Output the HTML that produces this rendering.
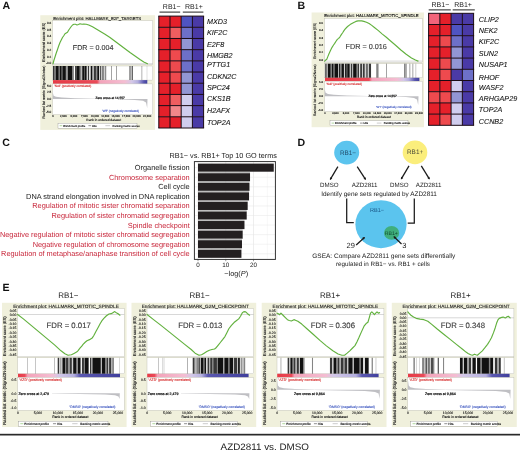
<!DOCTYPE html>
<html lang="en"><head><meta charset="utf-8"><title>Figure</title>
<style>html,body{margin:0;padding:0;background:#fff;}body{width:520px;height:453px;overflow:hidden;}svg{display:block;font-family:"Liberation Sans", sans-serif;}</style></head><body>
<svg width="520" height="453" viewBox="0 0 520 453" text-rendering="geometricPrecision">
<rect x="0.00" y="0.00" width="520.00" height="453.00" fill="#ffffff"/>
<text x="2.40" y="9.10" font-size="10.6" fill="#111" font-weight="bold">A</text>
<text x="297.60" y="9.10" font-size="10.6" fill="#111" font-weight="bold">B</text>
<text x="2.30" y="145.70" font-size="10.6" fill="#111" font-weight="bold">C</text>
<text x="297.60" y="145.70" font-size="10.6" fill="#111" font-weight="bold">D</text>
<text x="2.50" y="290.70" font-size="10.6" fill="#111" font-weight="bold">E</text>
<g>
<rect x="40.30" y="15.20" width="114.70" height="114.70" fill="#f0f0dc"/>
<rect x="52.60" y="20.60" width="100.10" height="44.20" fill="#ffffff" stroke="#b9b9b0" stroke-width="0.4"/>
<line x1="52.60" y1="63.75" x2="152.70" y2="63.75" stroke="#a8a8a8" stroke-width="0.45"/>
<rect x="52.60" y="66.00" width="100.10" height="14.10" fill="#ffffff" stroke="#b9b9b0" stroke-width="0.4"/>
<rect x="53.15" y="66.00" width="1.38" height="14.10" fill="#000000" opacity="0.93"/>
<rect x="54.54" y="66.00" width="0.92" height="14.10" fill="#000000" opacity="0.18"/>
<rect x="55.46" y="66.00" width="3.23" height="14.10" fill="#000000" opacity="0.93"/>
<rect x="58.69" y="66.00" width="0.92" height="14.10" fill="#000000" opacity="0.48"/>
<rect x="59.62" y="66.00" width="1.85" height="14.10" fill="#000000" opacity="0.93"/>
<rect x="61.46" y="66.00" width="1.15" height="14.10" fill="#000000" opacity="0.78"/>
<rect x="62.61" y="66.00" width="3.23" height="14.10" fill="#000000" opacity="0.93"/>
<rect x="65.85" y="66.00" width="0.92" height="14.10" fill="#000000" opacity="0.48"/>
<rect x="66.77" y="66.00" width="0.81" height="14.10" fill="#000000" opacity="0.18"/>
<rect x="67.58" y="66.00" width="4.62" height="14.10" fill="#000000" opacity="0.93"/>
<rect x="72.19" y="66.00" width="1.73" height="14.10" fill="#000000" opacity="0.48"/>
<rect x="75.08" y="66.00" width="1.73" height="14.10" fill="#000000" opacity="0.78"/>
<rect x="76.81" y="66.00" width="2.88" height="14.10" fill="#000000" opacity="0.93"/>
<rect x="79.69" y="66.00" width="1.73" height="14.10" fill="#000000" opacity="0.48"/>
<rect x="81.42" y="66.00" width="0.81" height="14.10" fill="#000000" opacity="0.18"/>
<rect x="82.23" y="66.00" width="1.85" height="14.10" fill="#000000" opacity="0.93"/>
<rect x="84.08" y="66.00" width="0.69" height="14.10" fill="#000000" opacity="0.78"/>
<rect x="84.77" y="66.00" width="1.85" height="14.10" fill="#000000" opacity="0.93"/>
<rect x="86.61" y="66.00" width="1.38" height="14.10" fill="#000000" opacity="0.18"/>
<rect x="88.00" y="66.00" width="1.15" height="14.10" fill="#000000" opacity="0.78"/>
<rect x="90.65" y="66.00" width="1.73" height="14.10" fill="#000000" opacity="0.93"/>
<rect x="92.38" y="66.00" width="1.38" height="14.10" fill="#000000" opacity="0.18"/>
<rect x="93.77" y="66.00" width="1.50" height="14.10" fill="#000000" opacity="0.78"/>
<rect x="95.27" y="66.00" width="1.15" height="14.10" fill="#000000" opacity="0.93"/>
<rect x="96.42" y="66.00" width="0.81" height="14.10" fill="#000000" opacity="0.18"/>
<rect x="97.23" y="66.00" width="1.85" height="14.10" fill="#000000" opacity="0.93"/>
<rect x="99.88" y="66.00" width="0.81" height="14.10" fill="#000000" opacity="0.93"/>
<rect x="100.69" y="66.00" width="1.15" height="14.10" fill="#000000" opacity="0.18"/>
<rect x="101.84" y="66.00" width="2.08" height="14.10" fill="#000000" opacity="0.48"/>
<rect x="103.92" y="66.00" width="1.15" height="14.10" fill="#000000" opacity="0.18"/>
<rect x="105.07" y="66.00" width="1.15" height="14.10" fill="#000000" opacity="0.48"/>
<rect x="111.30" y="66.00" width="0.60" height="14.10" fill="#000000" opacity="0.6"/>
<rect x="116.30" y="66.00" width="0.60" height="14.10" fill="#000000" opacity="0.6"/>
<rect x="129.50" y="66.00" width="1.00" height="14.10" fill="#000000" opacity="0.75"/>
<rect x="131.10" y="66.00" width="0.60" height="14.10" fill="#000000" opacity="0.45"/>
<rect x="132.20" y="66.00" width="0.80" height="14.10" fill="#000000" opacity="0.75"/>
<rect x="141.60" y="66.00" width="0.60" height="14.10" fill="#000000" opacity="0.5"/>
<rect x="146.80" y="66.00" width="0.40" height="14.10" fill="#000000" opacity="0.3"/>
<defs><linearGradient id="g1" gradientUnits="userSpaceOnUse" x1="53.00" y1="0" x2="147.30" y2="0"><stop offset="0.000" stop-color="#e63a46"/><stop offset="0.467" stop-color="#ea4a58"/><stop offset="0.498" stop-color="#f3a3ba"/><stop offset="0.761" stop-color="#f4bdd2"/><stop offset="0.836" stop-color="#d3c8e8"/><stop offset="0.900" stop-color="#b3aede"/><stop offset="0.964" stop-color="#5a57b0"/><stop offset="1.000" stop-color="#403f9c"/></linearGradient></defs>
<rect x="53.00" y="80.10" width="94.30" height="3.80" fill="url(#g1)"/>
<rect x="52.60" y="83.90" width="100.10" height="30.70" fill="#ffffff" stroke="#b9b9b0" stroke-width="0.4"/>
<polygon points="52.80,92.50 53.60,95.80 56.00,96.80 62.00,97.60 75.00,98.30 95.00,98.80 120.00,99.00 121.00,99.40 135.00,99.90 143.00,100.80 146.00,102.50 147.20,108.00 147.50,99.00 52.80,99.00" fill="#b4b4b8" opacity="0.85"/>
<text x="97.20" y="19.70" font-size="4.3" fill="#222" text-anchor="middle" stroke="#222" stroke-width="0.13">Enrichment plot: HALLMARK_E2F_TARGETS</text>
<polyline points="53.00,63.75 54.00,60.00 55.00,57.00 56.25,53.00 57.50,49.50 58.75,45.75 60.00,42.50 61.25,40.00 62.50,37.50 63.75,35.75 65.00,33.75 66.25,33.00 67.50,32.25 68.75,30.00 70.00,28.25 71.25,26.50 72.50,25.00 74.00,24.25 75.50,24.25 77.00,25.00 78.50,24.50 80.00,23.75 82.00,24.25 83.75,24.00 86.25,24.25 88.75,25.00 92.50,26.75 96.25,29.00 100.00,31.25 105.00,34.25 110.00,37.50 115.00,41.25 120.00,45.00 125.00,48.75 130.00,52.50 135.00,56.00 140.00,59.50 143.75,62.00 147.50,63.75" fill="none" stroke="#62b13e" stroke-width="1.15" stroke-linejoin="round" stroke-linecap="round"/>
<text x="72.80" y="50.10" font-size="7.15" fill="#383838" stroke="#383838" stroke-width="0.12">FDR = 0.004</text>
<text x="51.20" y="24.00" font-size="3.05" fill="#1a1a1a" text-anchor="end" stroke="#1a1a1a" stroke-width="0.13">0.6</text>
<text x="51.20" y="30.70" font-size="3.05" fill="#1a1a1a" text-anchor="end" stroke="#1a1a1a" stroke-width="0.13">0.5</text>
<text x="51.20" y="37.40" font-size="3.05" fill="#1a1a1a" text-anchor="end" stroke="#1a1a1a" stroke-width="0.13">0.4</text>
<text x="51.20" y="44.10" font-size="3.05" fill="#1a1a1a" text-anchor="end" stroke="#1a1a1a" stroke-width="0.13">0.3</text>
<text x="51.20" y="50.80" font-size="3.05" fill="#1a1a1a" text-anchor="end" stroke="#1a1a1a" stroke-width="0.13">0.2</text>
<text x="51.20" y="57.50" font-size="3.05" fill="#1a1a1a" text-anchor="end" stroke="#1a1a1a" stroke-width="0.13">0.1</text>
<text x="51.20" y="64.20" font-size="3.05" fill="#1a1a1a" text-anchor="end" stroke="#1a1a1a" stroke-width="0.13">-0.0</text>
<text x="51.20" y="86.60" font-size="3.05" fill="#1a1a1a" text-anchor="end" stroke="#1a1a1a" stroke-width="0.13">5.0</text>
<text x="51.20" y="93.20" font-size="3.05" fill="#1a1a1a" text-anchor="end" stroke="#1a1a1a" stroke-width="0.13">2.5</text>
<text x="51.20" y="99.80" font-size="3.05" fill="#1a1a1a" text-anchor="end" stroke="#1a1a1a" stroke-width="0.13">0.0</text>
<text x="51.20" y="106.50" font-size="3.05" fill="#1a1a1a" text-anchor="end" stroke="#1a1a1a" stroke-width="0.13">-2.5</text>
<text x="51.20" y="113.10" font-size="3.05" fill="#1a1a1a" text-anchor="end" stroke="#1a1a1a" stroke-width="0.13">-5.0</text>
<text x="53.00" y="117.40" font-size="2.7" fill="#222" text-anchor="middle" stroke="#222" stroke-width="0.13">0</text>
<text x="63.45" y="117.40" font-size="2.7" fill="#222" text-anchor="middle" stroke="#222" stroke-width="0.13">2,500</text>
<text x="73.90" y="117.40" font-size="2.7" fill="#222" text-anchor="middle" stroke="#222" stroke-width="0.13">5,000</text>
<text x="84.35" y="117.40" font-size="2.7" fill="#222" text-anchor="middle" stroke="#222" stroke-width="0.13">7,500</text>
<text x="94.80" y="117.40" font-size="2.7" fill="#222" text-anchor="middle" stroke="#222" stroke-width="0.13">10,000</text>
<text x="105.25" y="117.40" font-size="2.7" fill="#222" text-anchor="middle" stroke="#222" stroke-width="0.13">12,500</text>
<text x="115.70" y="117.40" font-size="2.7" fill="#222" text-anchor="middle" stroke="#222" stroke-width="0.13">15,000</text>
<text x="126.15" y="117.40" font-size="2.7" fill="#222" text-anchor="middle" stroke="#222" stroke-width="0.13">17,500</text>
<text x="136.60" y="117.40" font-size="2.7" fill="#222" text-anchor="middle" stroke="#222" stroke-width="0.13">20,000</text>
<text x="147.05" y="117.40" font-size="2.7" fill="#222" text-anchor="middle" stroke="#222" stroke-width="0.13">22,500</text>
<text x="103.70" y="121.20" font-size="3.25" fill="#222" text-anchor="middle" stroke="#222" stroke-width="0.13">Rank in ordered dataset</text>
<text x="44.90" y="42.20" font-size="3.88" fill="#1a1a1a" text-anchor="middle" transform="rotate(-90 44.90 42.20)" stroke="#1a1a1a" stroke-width="0.13">Enrichment score (ES)</text>
<text x="44.90" y="92.10" font-size="3.6" fill="#1a1a1a" text-anchor="middle" transform="rotate(-90 44.90 92.10)" stroke="#1a1a1a" stroke-width="0.13">Ranked list metric (Signal2Noise)</text>
<text x="54.20" y="87.32" font-size="3.1414999999999997" fill="#d83a3a" stroke="#d83a3a" stroke-width="0.13">'Null' (positively correlated)</text>
<text x="139.00" y="111.60" font-size="3.05" fill="#4a62c4" text-anchor="end" stroke="#4a62c4" stroke-width="0.13">'WT' (negatively correlated)</text>
<text x="95.50" y="99.30" font-size="3.2025" fill="#111" stroke="#111" stroke-width="0.2">Zero cross at 14,557</text>
<rect x="58.00" y="123.20" width="79.00" height="5.00" fill="#ffffff" stroke="#777" stroke-width="0.3"/>
<line x1="59.58" y1="125.70" x2="62.34" y2="125.70" stroke="#62b13e" stroke-width="0.5"/>
<text x="63.13" y="126.69" font-size="2.745" fill="#222" stroke="#222" stroke-width="0.13">Enrichment profile</text>
<line x1="88.41" y1="125.70" x2="91.18" y2="125.70" stroke="#222" stroke-width="0.5"/>
<text x="91.97" y="126.69" font-size="2.745" fill="#222" stroke="#222" stroke-width="0.13">Hits</text>
<line x1="105.40" y1="125.70" x2="110.14" y2="125.70" stroke="#999" stroke-width="0.5"/>
<text x="112.51" y="126.69" font-size="2.745" fill="#222" stroke="#222" stroke-width="0.13">Ranking metric scores</text>
</g>
<g>
<rect x="311.60" y="12.50" width="112.40" height="114.70" fill="#f0f0dc"/>
<rect x="324.60" y="18.40" width="97.70" height="44.10" fill="#ffffff" stroke="#b9b9b0" stroke-width="0.4"/>
<line x1="324.60" y1="61.10" x2="422.30" y2="61.10" stroke="#a8a8a8" stroke-width="0.45"/>
<rect x="324.60" y="63.70" width="97.70" height="14.10" fill="#ffffff" stroke="#b9b9b0" stroke-width="0.4"/>
<rect x="325.23" y="63.70" width="1.38" height="14.10" fill="#000000" opacity="0.78"/>
<rect x="326.62" y="63.70" width="1.15" height="14.10" fill="#000000" opacity="0.18"/>
<rect x="327.77" y="63.70" width="2.88" height="14.10" fill="#000000" opacity="0.93"/>
<rect x="330.65" y="63.70" width="1.15" height="14.10" fill="#000000" opacity="0.48"/>
<rect x="331.81" y="63.70" width="1.73" height="14.10" fill="#000000" opacity="0.93"/>
<rect x="333.54" y="63.70" width="0.92" height="14.10" fill="#000000" opacity="0.48"/>
<rect x="334.46" y="63.70" width="3.69" height="14.10" fill="#000000" opacity="0.93"/>
<rect x="338.15" y="63.70" width="0.92" height="14.10" fill="#000000" opacity="0.18"/>
<rect x="339.08" y="63.70" width="1.38" height="14.10" fill="#000000" opacity="0.93"/>
<rect x="340.46" y="63.70" width="0.92" height="14.10" fill="#000000" opacity="0.18"/>
<rect x="341.38" y="63.70" width="2.54" height="14.10" fill="#000000" opacity="0.93"/>
<rect x="343.92" y="63.70" width="1.15" height="14.10" fill="#000000" opacity="0.18"/>
<rect x="345.08" y="63.70" width="1.50" height="14.10" fill="#000000" opacity="0.93"/>
<rect x="346.58" y="63.70" width="0.69" height="14.10" fill="#000000" opacity="0.78"/>
<rect x="347.27" y="63.70" width="2.42" height="14.10" fill="#000000" opacity="0.93"/>
<rect x="349.69" y="63.70" width="1.15" height="14.10" fill="#000000" opacity="0.18"/>
<rect x="350.85" y="63.70" width="1.38" height="14.10" fill="#000000" opacity="0.78"/>
<rect x="352.23" y="63.70" width="0.92" height="14.10" fill="#000000" opacity="0.18"/>
<rect x="353.15" y="63.70" width="3.46" height="14.10" fill="#000000" opacity="0.93"/>
<rect x="356.61" y="63.70" width="1.38" height="14.10" fill="#000000" opacity="0.48"/>
<rect x="358.00" y="63.70" width="1.15" height="14.10" fill="#000000" opacity="0.78"/>
<rect x="360.31" y="63.70" width="1.50" height="14.10" fill="#000000" opacity="0.93"/>
<rect x="361.81" y="63.70" width="1.15" height="14.10" fill="#000000" opacity="0.18"/>
<rect x="362.96" y="63.70" width="1.73" height="14.10" fill="#000000" opacity="0.78"/>
<rect x="364.69" y="63.70" width="1.73" height="14.10" fill="#000000" opacity="0.18"/>
<rect x="366.42" y="63.70" width="1.15" height="14.10" fill="#000000" opacity="0.93"/>
<rect x="368.73" y="63.70" width="2.31" height="14.10" fill="#000000" opacity="0.78"/>
<rect x="376.23" y="63.70" width="2.31" height="14.10" fill="#000000" opacity="0.48"/>
<rect x="386.30" y="63.70" width="0.60" height="14.10" fill="#000000" opacity="0.6"/>
<rect x="404.45" y="63.70" width="0.90" height="14.10" fill="#000000" opacity="0.85"/>
<rect x="405.90" y="63.70" width="0.60" height="14.10" fill="#000000" opacity="0.6"/>
<rect x="409.60" y="63.70" width="0.60" height="14.10" fill="#000000" opacity="0.6"/>
<rect x="412.60" y="63.70" width="0.60" height="14.10" fill="#000000" opacity="0.6"/>
<rect x="415.65" y="63.70" width="0.50" height="14.10" fill="#000000" opacity="0.4"/>
<defs><linearGradient id="g2" gradientUnits="userSpaceOnUse" x1="325.00" y1="0" x2="419.40" y2="0"><stop offset="0.000" stop-color="#e63a46"/><stop offset="0.466" stop-color="#ea4a58"/><stop offset="0.498" stop-color="#f3a3ba"/><stop offset="0.761" stop-color="#f4bdd2"/><stop offset="0.835" stop-color="#d3c8e8"/><stop offset="0.889" stop-color="#b3aede"/><stop offset="0.952" stop-color="#5a57b0"/><stop offset="1.000" stop-color="#403f9c"/></linearGradient></defs>
<rect x="325.00" y="77.80" width="94.40" height="3.40" fill="url(#g2)"/>
<rect x="324.60" y="81.20" width="97.70" height="30.40" fill="#ffffff" stroke="#b9b9b0" stroke-width="0.4"/>
<polygon points="324.80,89.50 325.60,92.80 328.00,93.90 334.00,94.70 347.00,95.40 367.00,95.90 391.00,96.20 392.00,96.60 406.00,97.10 414.00,98.00 417.00,99.60 418.20,105.00 418.50,96.20 324.80,96.20" fill="#b4b4b8" opacity="0.85"/>
<text x="371.50" y="16.70" font-size="4.24" fill="#222" text-anchor="middle" stroke="#222" stroke-width="0.13">Enrichment plot: HALLMARK_MITOTIC_SPINDLE</text>
<polyline points="324.65,61.11 325.70,60.06 326.76,59.26 327.82,56.61 328.88,53.97 330.47,50.53 332.06,47.35 333.38,45.23 334.70,43.38 336.03,41.26 337.35,39.41 338.67,38.35 340.00,36.76 341.32,34.65 342.64,32.79 343.97,30.67 345.29,28.82 346.61,27.50 347.94,26.18 350.06,24.59 351.91,23.53 353.76,22.47 355.88,21.41 358.00,20.88 359.85,20.88 361.70,20.88 363.82,21.41 366.47,22.20 369.11,23.53 371.76,25.38 374.41,27.50 378.38,30.67 382.35,34.12 386.32,37.29 390.29,40.73 395.58,45.23 400.88,50.00 406.17,54.23 411.46,57.94 415.43,60.06 418.08,61.11" fill="none" stroke="#62b13e" stroke-width="1.15" stroke-linejoin="round" stroke-linecap="round"/>
<text x="345.60" y="48.80" font-size="7.25" fill="#383838" stroke="#383838" stroke-width="0.12">FDR = 0.016</text>
<text x="323.20" y="23.86" font-size="2.95" fill="#1a1a1a" text-anchor="end" stroke="#1a1a1a" stroke-width="0.13">0.5</text>
<text x="323.20" y="31.26" font-size="2.95" fill="#1a1a1a" text-anchor="end" stroke="#1a1a1a" stroke-width="0.13">0.4</text>
<text x="323.20" y="38.66" font-size="2.95" fill="#1a1a1a" text-anchor="end" stroke="#1a1a1a" stroke-width="0.13">0.3</text>
<text x="323.20" y="46.06" font-size="2.95" fill="#1a1a1a" text-anchor="end" stroke="#1a1a1a" stroke-width="0.13">0.2</text>
<text x="323.20" y="53.46" font-size="2.95" fill="#1a1a1a" text-anchor="end" stroke="#1a1a1a" stroke-width="0.13">0.1</text>
<text x="323.20" y="60.86" font-size="2.95" fill="#1a1a1a" text-anchor="end" stroke="#1a1a1a" stroke-width="0.13">0.0</text>
<text x="323.20" y="83.06" font-size="2.95" fill="#1a1a1a" text-anchor="end" stroke="#1a1a1a" stroke-width="0.13">5.0</text>
<text x="323.20" y="90.06" font-size="2.95" fill="#1a1a1a" text-anchor="end" stroke="#1a1a1a" stroke-width="0.13">2.5</text>
<text x="323.20" y="97.06" font-size="2.95" fill="#1a1a1a" text-anchor="end" stroke="#1a1a1a" stroke-width="0.13">0.0</text>
<text x="323.20" y="104.26" font-size="2.95" fill="#1a1a1a" text-anchor="end" stroke="#1a1a1a" stroke-width="0.13">-2.5</text>
<text x="323.20" y="111.16" font-size="2.95" fill="#1a1a1a" text-anchor="end" stroke="#1a1a1a" stroke-width="0.13">-5.0</text>
<text x="325.00" y="114.30" font-size="2.6" fill="#222" text-anchor="middle" stroke="#222" stroke-width="0.13">0</text>
<text x="335.45" y="114.30" font-size="2.6" fill="#222" text-anchor="middle" stroke="#222" stroke-width="0.13">2,500</text>
<text x="345.90" y="114.30" font-size="2.6" fill="#222" text-anchor="middle" stroke="#222" stroke-width="0.13">5,000</text>
<text x="356.35" y="114.30" font-size="2.6" fill="#222" text-anchor="middle" stroke="#222" stroke-width="0.13">7,500</text>
<text x="366.80" y="114.30" font-size="2.6" fill="#222" text-anchor="middle" stroke="#222" stroke-width="0.13">10,000</text>
<text x="377.25" y="114.30" font-size="2.6" fill="#222" text-anchor="middle" stroke="#222" stroke-width="0.13">12,500</text>
<text x="387.70" y="114.30" font-size="2.6" fill="#222" text-anchor="middle" stroke="#222" stroke-width="0.13">15,000</text>
<text x="398.15" y="114.30" font-size="2.6" fill="#222" text-anchor="middle" stroke="#222" stroke-width="0.13">17,500</text>
<text x="408.60" y="114.30" font-size="2.6" fill="#222" text-anchor="middle" stroke="#222" stroke-width="0.13">20,000</text>
<text x="419.05" y="114.30" font-size="2.6" fill="#222" text-anchor="middle" stroke="#222" stroke-width="0.13">22,500</text>
<text x="373.90" y="118.20" font-size="3.2" fill="#222" text-anchor="middle" stroke="#222" stroke-width="0.13">Rank in ordered dataset</text>
<text x="316.30" y="40.90" font-size="3.62" fill="#1a1a1a" text-anchor="middle" transform="rotate(-90 316.30 40.90)" stroke="#1a1a1a" stroke-width="0.13">Enrichment score (ES)</text>
<text x="316.30" y="90.10" font-size="3.5" fill="#1a1a1a" text-anchor="middle" transform="rotate(-90 316.30 90.10)" stroke="#1a1a1a" stroke-width="0.13">Ranked list metric (Signal2Noise)</text>
<text x="326.20" y="84.50" font-size="3.0385000000000004" fill="#d83a3a" stroke="#d83a3a" stroke-width="0.13">'Null' (positively correlated)</text>
<text x="411.50" y="107.80" font-size="2.95" fill="#4a62c4" text-anchor="end" stroke="#4a62c4" stroke-width="0.13">'WT' (negatively correlated)</text>
<text x="368.50" y="96.50" font-size="3.0975" fill="#111" stroke="#111" stroke-width="0.2">Zero cross at 14,557</text>
<rect x="330.00" y="120.60" width="78.00" height="5.00" fill="#ffffff" stroke="#777" stroke-width="0.3"/>
<line x1="331.56" y1="123.10" x2="334.29" y2="123.10" stroke="#62b13e" stroke-width="0.5"/>
<text x="335.07" y="124.06" font-size="2.6550000000000002" fill="#222" stroke="#222" stroke-width="0.13">Enrichment profile</text>
<line x1="360.03" y1="123.10" x2="362.76" y2="123.10" stroke="#222" stroke-width="0.5"/>
<text x="363.54" y="124.06" font-size="2.6550000000000002" fill="#222" stroke="#222" stroke-width="0.13">Hits</text>
<line x1="376.80" y1="123.10" x2="381.48" y2="123.10" stroke="#999" stroke-width="0.5"/>
<text x="383.82" y="124.06" font-size="2.6550000000000002" fill="#222" stroke="#222" stroke-width="0.13">Ranking metric scores</text>
</g>
<rect x="158.80" y="16.10" width="11.20" height="11.19" fill="#e5202a"/>
<rect x="170.00" y="16.10" width="11.20" height="11.19" fill="#e5202a"/>
<rect x="181.20" y="16.10" width="11.20" height="11.19" fill="#4f54c2"/>
<rect x="192.40" y="16.10" width="11.20" height="11.19" fill="#4a3aa6"/>
<rect x="158.80" y="27.29" width="11.20" height="11.19" fill="#e5202a"/>
<rect x="170.00" y="27.29" width="11.20" height="11.19" fill="#f05e60"/>
<rect x="181.20" y="27.29" width="11.20" height="11.19" fill="#6d70c8"/>
<rect x="192.40" y="27.29" width="11.20" height="11.19" fill="#4a3aa6"/>
<rect x="158.80" y="38.48" width="11.20" height="11.19" fill="#e5202a"/>
<rect x="170.00" y="38.48" width="11.20" height="11.19" fill="#e5202a"/>
<rect x="181.20" y="38.48" width="11.20" height="11.19" fill="#9296d4"/>
<rect x="192.40" y="38.48" width="11.20" height="11.19" fill="#4a3aa6"/>
<rect x="158.80" y="49.67" width="11.20" height="11.19" fill="#e5202a"/>
<rect x="170.00" y="49.67" width="11.20" height="11.19" fill="#ee4a4e"/>
<rect x="181.20" y="49.67" width="11.20" height="11.19" fill="#6d70c8"/>
<rect x="192.40" y="49.67" width="11.20" height="11.19" fill="#4a3aa6"/>
<rect x="158.80" y="60.86" width="11.20" height="11.19" fill="#e5202a"/>
<rect x="170.00" y="60.86" width="11.20" height="11.19" fill="#ee4a4e"/>
<rect x="181.20" y="60.86" width="11.20" height="11.19" fill="#6d70c8"/>
<rect x="192.40" y="60.86" width="11.20" height="11.19" fill="#4a3aa6"/>
<rect x="158.80" y="72.05" width="11.20" height="11.19" fill="#e5202a"/>
<rect x="170.00" y="72.05" width="11.20" height="11.19" fill="#ee4a4e"/>
<rect x="181.20" y="72.05" width="11.20" height="11.19" fill="#9296d4"/>
<rect x="192.40" y="72.05" width="11.20" height="11.19" fill="#4a3aa6"/>
<rect x="158.80" y="83.24" width="11.20" height="11.19" fill="#e5202a"/>
<rect x="170.00" y="83.24" width="11.20" height="11.19" fill="#e5202a"/>
<rect x="181.20" y="83.24" width="11.20" height="11.19" fill="#9296d4"/>
<rect x="192.40" y="83.24" width="11.20" height="11.19" fill="#4a3aa6"/>
<rect x="158.80" y="94.43" width="11.20" height="11.19" fill="#e5202a"/>
<rect x="170.00" y="94.43" width="11.20" height="11.19" fill="#f05e60"/>
<rect x="181.20" y="94.43" width="11.20" height="11.19" fill="#d0cdee"/>
<rect x="192.40" y="94.43" width="11.20" height="11.19" fill="#4a3aa6"/>
<rect x="158.80" y="105.62" width="11.20" height="11.19" fill="#e5202a"/>
<rect x="170.00" y="105.62" width="11.20" height="11.19" fill="#f3878a"/>
<rect x="181.20" y="105.62" width="11.20" height="11.19" fill="#d0cdee"/>
<rect x="192.40" y="105.62" width="11.20" height="11.19" fill="#4a3aa6"/>
<rect x="158.80" y="116.81" width="11.20" height="11.19" fill="#e5202a"/>
<rect x="170.00" y="116.81" width="11.20" height="11.19" fill="#e5202a"/>
<rect x="181.20" y="116.81" width="11.20" height="11.19" fill="#d0cdee"/>
<rect x="192.40" y="116.81" width="11.20" height="11.19" fill="#4a3aa6"/>
<line x1="158.80" y1="16.10" x2="158.80" y2="128.00" stroke="#1a0a14" stroke-width="1.0"/>
<line x1="170.00" y1="16.10" x2="170.00" y2="128.00" stroke="#1a0a14" stroke-width="1.0"/>
<line x1="181.20" y1="16.10" x2="181.20" y2="128.00" stroke="#1a0a14" stroke-width="1.0"/>
<line x1="192.40" y1="16.10" x2="192.40" y2="128.00" stroke="#1a0a14" stroke-width="1.0"/>
<line x1="203.60" y1="16.10" x2="203.60" y2="128.00" stroke="#1a0a14" stroke-width="1.0"/>
<line x1="158.30" y1="16.10" x2="204.10" y2="16.10" stroke="#1a0a14" stroke-width="1.0"/>
<line x1="158.30" y1="27.29" x2="204.10" y2="27.29" stroke="#1a0a14" stroke-width="1.0"/>
<line x1="158.30" y1="38.48" x2="204.10" y2="38.48" stroke="#1a0a14" stroke-width="1.0"/>
<line x1="158.30" y1="49.67" x2="204.10" y2="49.67" stroke="#1a0a14" stroke-width="1.0"/>
<line x1="158.30" y1="60.86" x2="204.10" y2="60.86" stroke="#1a0a14" stroke-width="1.0"/>
<line x1="158.30" y1="72.05" x2="204.10" y2="72.05" stroke="#1a0a14" stroke-width="1.0"/>
<line x1="158.30" y1="83.24" x2="204.10" y2="83.24" stroke="#1a0a14" stroke-width="1.0"/>
<line x1="158.30" y1="94.43" x2="204.10" y2="94.43" stroke="#1a0a14" stroke-width="1.0"/>
<line x1="158.30" y1="105.62" x2="204.10" y2="105.62" stroke="#1a0a14" stroke-width="1.0"/>
<line x1="158.30" y1="116.81" x2="204.10" y2="116.81" stroke="#1a0a14" stroke-width="1.0"/>
<line x1="158.30" y1="128.00" x2="204.10" y2="128.00" stroke="#1a0a14" stroke-width="1.0"/>
<text x="207.00" y="24.20" font-size="7.2" fill="#151515" font-style="italic" stroke="#151515" stroke-width="0.1">MXD3</text>
<text x="207.00" y="34.80" font-size="7.2" fill="#151515" font-style="italic" stroke="#151515" stroke-width="0.1">KIF2C</text>
<text x="207.00" y="46.70" font-size="7.2" fill="#151515" font-style="italic" stroke="#151515" stroke-width="0.1">E2F8</text>
<text x="207.00" y="57.50" font-size="7.2" fill="#151515" font-style="italic" stroke="#151515" stroke-width="0.1">HMGB2</text>
<text x="207.00" y="67.40" font-size="7.2" fill="#151515" font-style="italic" stroke="#151515" stroke-width="0.1">PTTG1</text>
<text x="207.00" y="79.20" font-size="7.2" fill="#151515" font-style="italic" stroke="#151515" stroke-width="0.1">CDKN2C</text>
<text x="207.00" y="90.00" font-size="7.2" fill="#151515" font-style="italic" stroke="#151515" stroke-width="0.1">SPC24</text>
<text x="207.00" y="101.30" font-size="7.2" fill="#151515" font-style="italic" stroke="#151515" stroke-width="0.1">CKS1B</text>
<text x="207.00" y="112.50" font-size="7.2" fill="#151515" font-style="italic" stroke="#151515" stroke-width="0.1">H2AFX</text>
<text x="207.00" y="124.50" font-size="7.2" fill="#151515" font-style="italic" stroke="#151515" stroke-width="0.1">TOP2A</text>
<text x="171.70" y="8.60" font-size="7.0" fill="#222" text-anchor="middle">RB1−</text>
<text x="193.90" y="8.60" font-size="7.0" fill="#222" text-anchor="middle">RB1+</text>
<line x1="159.50" y1="12.10" x2="180.20" y2="12.10" stroke="#222" stroke-width="1.0"/>
<line x1="182.80" y1="12.10" x2="203.40" y2="12.10" stroke="#222" stroke-width="1.0"/>
<rect x="428.60" y="13.30" width="11.25" height="11.20" fill="#f2647a"/>
<rect x="439.85" y="13.30" width="11.25" height="11.20" fill="#e5202a"/>
<rect x="451.10" y="13.30" width="11.25" height="11.20" fill="#4a3aa6"/>
<rect x="462.35" y="13.30" width="11.25" height="11.20" fill="#4a3aa6"/>
<rect x="428.60" y="24.50" width="11.25" height="11.20" fill="#e5202a"/>
<rect x="439.85" y="24.50" width="11.25" height="11.20" fill="#e5202a"/>
<rect x="451.10" y="24.50" width="11.25" height="11.20" fill="#4f54c2"/>
<rect x="462.35" y="24.50" width="11.25" height="11.20" fill="#4a3aa6"/>
<rect x="428.60" y="35.70" width="11.25" height="11.20" fill="#e5202a"/>
<rect x="439.85" y="35.70" width="11.25" height="11.20" fill="#ee4a4e"/>
<rect x="451.10" y="35.70" width="11.25" height="11.20" fill="#6d70c8"/>
<rect x="462.35" y="35.70" width="11.25" height="11.20" fill="#4a3aa6"/>
<rect x="428.60" y="46.90" width="11.25" height="11.20" fill="#e5202a"/>
<rect x="439.85" y="46.90" width="11.25" height="11.20" fill="#e5202a"/>
<rect x="451.10" y="46.90" width="11.25" height="11.20" fill="#9296d4"/>
<rect x="462.35" y="46.90" width="11.25" height="11.20" fill="#4a3aa6"/>
<rect x="428.60" y="58.10" width="11.25" height="11.20" fill="#e5202a"/>
<rect x="439.85" y="58.10" width="11.25" height="11.20" fill="#ee4a4e"/>
<rect x="451.10" y="58.10" width="11.25" height="11.20" fill="#9296d4"/>
<rect x="462.35" y="58.10" width="11.25" height="11.20" fill="#4a3aa6"/>
<rect x="428.60" y="69.30" width="11.25" height="11.20" fill="#e5202a"/>
<rect x="439.85" y="69.30" width="11.25" height="11.20" fill="#ee4a4e"/>
<rect x="451.10" y="69.30" width="11.25" height="11.20" fill="#4a3aa6"/>
<rect x="462.35" y="69.30" width="11.25" height="11.20" fill="#6d70c8"/>
<rect x="428.60" y="80.50" width="11.25" height="11.20" fill="#e5202a"/>
<rect x="439.85" y="80.50" width="11.25" height="11.20" fill="#e5202a"/>
<rect x="451.10" y="80.50" width="11.25" height="11.20" fill="#d0cdee"/>
<rect x="462.35" y="80.50" width="11.25" height="11.20" fill="#4a3aa6"/>
<rect x="428.60" y="91.70" width="11.25" height="11.20" fill="#ee4a4e"/>
<rect x="439.85" y="91.70" width="11.25" height="11.20" fill="#ee4a4e"/>
<rect x="451.10" y="91.70" width="11.25" height="11.20" fill="#9296d4"/>
<rect x="462.35" y="91.70" width="11.25" height="11.20" fill="#4a3aa6"/>
<rect x="428.60" y="102.90" width="11.25" height="11.20" fill="#e5202a"/>
<rect x="439.85" y="102.90" width="11.25" height="11.20" fill="#e5202a"/>
<rect x="451.10" y="102.90" width="11.25" height="11.20" fill="#d0cdee"/>
<rect x="462.35" y="102.90" width="11.25" height="11.20" fill="#4a3aa6"/>
<rect x="428.60" y="114.10" width="11.25" height="11.20" fill="#e5202a"/>
<rect x="439.85" y="114.10" width="11.25" height="11.20" fill="#ee4a4e"/>
<rect x="451.10" y="114.10" width="11.25" height="11.20" fill="#d0cdee"/>
<rect x="462.35" y="114.10" width="11.25" height="11.20" fill="#4a3aa6"/>
<line x1="428.60" y1="13.30" x2="428.60" y2="125.30" stroke="#1a0a14" stroke-width="1.0"/>
<line x1="439.85" y1="13.30" x2="439.85" y2="125.30" stroke="#1a0a14" stroke-width="1.0"/>
<line x1="451.10" y1="13.30" x2="451.10" y2="125.30" stroke="#1a0a14" stroke-width="1.0"/>
<line x1="462.35" y1="13.30" x2="462.35" y2="125.30" stroke="#1a0a14" stroke-width="1.0"/>
<line x1="473.60" y1="13.30" x2="473.60" y2="125.30" stroke="#1a0a14" stroke-width="1.0"/>
<line x1="428.10" y1="13.30" x2="474.10" y2="13.30" stroke="#1a0a14" stroke-width="1.0"/>
<line x1="428.10" y1="24.50" x2="474.10" y2="24.50" stroke="#1a0a14" stroke-width="1.0"/>
<line x1="428.10" y1="35.70" x2="474.10" y2="35.70" stroke="#1a0a14" stroke-width="1.0"/>
<line x1="428.10" y1="46.90" x2="474.10" y2="46.90" stroke="#1a0a14" stroke-width="1.0"/>
<line x1="428.10" y1="58.10" x2="474.10" y2="58.10" stroke="#1a0a14" stroke-width="1.0"/>
<line x1="428.10" y1="69.30" x2="474.10" y2="69.30" stroke="#1a0a14" stroke-width="1.0"/>
<line x1="428.10" y1="80.50" x2="474.10" y2="80.50" stroke="#1a0a14" stroke-width="1.0"/>
<line x1="428.10" y1="91.70" x2="474.10" y2="91.70" stroke="#1a0a14" stroke-width="1.0"/>
<line x1="428.10" y1="102.90" x2="474.10" y2="102.90" stroke="#1a0a14" stroke-width="1.0"/>
<line x1="428.10" y1="114.10" x2="474.10" y2="114.10" stroke="#1a0a14" stroke-width="1.0"/>
<line x1="428.10" y1="125.30" x2="474.10" y2="125.30" stroke="#1a0a14" stroke-width="1.0"/>
<text x="478.80" y="21.50" font-size="7.2" fill="#151515" font-style="italic" stroke="#151515" stroke-width="0.1">CLIP2</text>
<text x="478.80" y="32.80" font-size="7.2" fill="#151515" font-style="italic" stroke="#151515" stroke-width="0.1">NEK2</text>
<text x="478.80" y="43.80" font-size="7.2" fill="#151515" font-style="italic" stroke="#151515" stroke-width="0.1">KIF2C</text>
<text x="478.80" y="55.70" font-size="7.2" fill="#151515" font-style="italic" stroke="#151515" stroke-width="0.1">SUN2</text>
<text x="478.80" y="67.00" font-size="7.2" fill="#151515" font-style="italic" stroke="#151515" stroke-width="0.1">NUSAP1</text>
<text x="478.80" y="80.00" font-size="7.2" fill="#151515" font-style="italic" stroke="#151515" stroke-width="0.1">RHOF</text>
<text x="478.80" y="89.50" font-size="7.2" fill="#151515" font-style="italic" stroke="#151515" stroke-width="0.1">WASF2</text>
<text x="478.80" y="101.00" font-size="7.2" fill="#151515" font-style="italic" stroke="#151515" stroke-width="0.1">ARHGAP29</text>
<text x="478.80" y="112.00" font-size="7.2" fill="#151515" font-style="italic" stroke="#151515" stroke-width="0.1">TOP2A</text>
<text x="478.80" y="123.60" font-size="7.2" fill="#151515" font-style="italic" stroke="#151515" stroke-width="0.1">CCNB2</text>
<text x="440.40" y="6.90" font-size="7.0" fill="#222" text-anchor="middle">RB1−</text>
<text x="463.10" y="6.90" font-size="7.0" fill="#222" text-anchor="middle">RB1+</text>
<line x1="428.70" y1="9.90" x2="450.80" y2="9.90" stroke="#222" stroke-width="1.0"/>
<line x1="452.70" y1="9.90" x2="474.80" y2="9.90" stroke="#222" stroke-width="1.0"/>
<rect x="194.40" y="161.60" width="81.00" height="97.80" fill="#ffffff"/>
<line x1="211.88" y1="161.60" x2="211.88" y2="259.40" stroke="#ededed" stroke-width="0.4"/>
<line x1="239.62" y1="161.60" x2="239.62" y2="259.40" stroke="#ededed" stroke-width="0.4"/>
<line x1="267.38" y1="161.60" x2="267.38" y2="259.40" stroke="#ededed" stroke-width="0.4"/>
<line x1="198.00" y1="161.60" x2="198.00" y2="259.40" stroke="#e2e2e2" stroke-width="0.6"/>
<line x1="225.75" y1="161.60" x2="225.75" y2="259.40" stroke="#e2e2e2" stroke-width="0.6"/>
<line x1="253.50" y1="161.60" x2="253.50" y2="259.40" stroke="#e2e2e2" stroke-width="0.6"/>
<line x1="194.40" y1="167.65" x2="275.40" y2="167.65" stroke="#e6e6e6" stroke-width="0.5"/>
<rect x="198.00" y="163.60" width="75.76" height="8.10" fill="#231f20"/>
<text x="189.70" y="170.20" font-size="7.38" fill="#222" text-anchor="end">Organelle fission</text>
<line x1="194.40" y1="177.22" x2="275.40" y2="177.22" stroke="#e6e6e6" stroke-width="0.5"/>
<rect x="198.00" y="173.17" width="52.03" height="8.10" fill="#231f20"/>
<text x="189.70" y="179.77" font-size="7.38" fill="#c8283c" text-anchor="end">Chromosome separation</text>
<line x1="194.40" y1="186.79" x2="275.40" y2="186.79" stroke="#e6e6e6" stroke-width="0.5"/>
<rect x="198.00" y="182.74" width="51.48" height="8.10" fill="#231f20"/>
<text x="189.70" y="189.34" font-size="7.38" fill="#222" text-anchor="end">Cell cycle</text>
<line x1="194.40" y1="196.36" x2="275.40" y2="196.36" stroke="#e6e6e6" stroke-width="0.5"/>
<rect x="198.00" y="192.31" width="51.06" height="8.10" fill="#231f20"/>
<text x="189.70" y="198.91" font-size="7.38" fill="#222" text-anchor="end">DNA strand elongation involved in DNA replication</text>
<line x1="194.40" y1="205.93" x2="275.40" y2="205.93" stroke="#e6e6e6" stroke-width="0.5"/>
<rect x="198.00" y="201.88" width="49.67" height="8.10" fill="#231f20"/>
<text x="189.70" y="208.48" font-size="7.38" fill="#c8283c" text-anchor="end">Regulation of mitotic sister chromatid separation</text>
<line x1="194.40" y1="215.50" x2="275.40" y2="215.50" stroke="#e6e6e6" stroke-width="0.5"/>
<rect x="198.00" y="211.45" width="48.70" height="8.10" fill="#231f20"/>
<text x="189.70" y="218.05" font-size="7.38" fill="#c8283c" text-anchor="end">Regulation of sister chromatid segregation</text>
<line x1="194.40" y1="225.07" x2="275.40" y2="225.07" stroke="#e6e6e6" stroke-width="0.5"/>
<rect x="198.00" y="221.02" width="46.48" height="8.10" fill="#231f20"/>
<text x="189.70" y="227.62" font-size="7.38" fill="#c8283c" text-anchor="end">Spindle checkpoint</text>
<line x1="194.40" y1="234.64" x2="275.40" y2="234.64" stroke="#e6e6e6" stroke-width="0.5"/>
<rect x="198.00" y="230.59" width="44.68" height="8.10" fill="#231f20"/>
<text x="189.70" y="237.19" font-size="7.38" fill="#c8283c" text-anchor="end">Negative regulation of mitotic sister chromatid segregation</text>
<line x1="194.40" y1="244.21" x2="275.40" y2="244.21" stroke="#e6e6e6" stroke-width="0.5"/>
<rect x="198.00" y="240.16" width="43.98" height="8.10" fill="#231f20"/>
<text x="189.70" y="246.76" font-size="7.38" fill="#c8283c" text-anchor="end">Negative regulation of chromosome segregation</text>
<line x1="194.40" y1="253.78" x2="275.40" y2="253.78" stroke="#e6e6e6" stroke-width="0.5"/>
<rect x="198.00" y="249.73" width="43.43" height="8.10" fill="#231f20"/>
<text x="189.70" y="256.33" font-size="7.38" fill="#c8283c" text-anchor="end">Regulation of metaphase/anaphase transition of cell cycle</text>
<line x1="198.00" y1="172.44" x2="250.03" y2="172.44" stroke="#8a8a8a" stroke-width="1.47" opacity="0.55"/>
<line x1="198.00" y1="182.00" x2="249.48" y2="182.00" stroke="#8a8a8a" stroke-width="1.47" opacity="0.55"/>
<line x1="198.00" y1="191.58" x2="249.06" y2="191.58" stroke="#8a8a8a" stroke-width="1.47" opacity="0.55"/>
<line x1="198.00" y1="201.15" x2="247.67" y2="201.15" stroke="#8a8a8a" stroke-width="1.47" opacity="0.55"/>
<line x1="198.00" y1="210.72" x2="246.70" y2="210.72" stroke="#8a8a8a" stroke-width="1.47" opacity="0.55"/>
<line x1="198.00" y1="220.29" x2="244.48" y2="220.29" stroke="#8a8a8a" stroke-width="1.47" opacity="0.55"/>
<line x1="198.00" y1="229.86" x2="242.68" y2="229.86" stroke="#8a8a8a" stroke-width="1.47" opacity="0.55"/>
<line x1="198.00" y1="239.43" x2="241.98" y2="239.43" stroke="#8a8a8a" stroke-width="1.47" opacity="0.55"/>
<line x1="198.00" y1="249.00" x2="241.43" y2="249.00" stroke="#8a8a8a" stroke-width="1.47" opacity="0.55"/>
<rect x="194.40" y="161.60" width="81.00" height="97.80" fill="none" stroke="#2a2a2a" stroke-width="0.95"/>
<line x1="198.00" y1="259.40" x2="198.00" y2="261.20" stroke="#333" stroke-width="0.5"/>
<text x="198.00" y="266.90" font-size="6.3" fill="#1a1a1a" text-anchor="middle">0</text>
<line x1="225.75" y1="259.40" x2="225.75" y2="261.20" stroke="#333" stroke-width="0.5"/>
<text x="225.75" y="266.90" font-size="6.3" fill="#1a1a1a" text-anchor="middle">10</text>
<line x1="253.50" y1="259.40" x2="253.50" y2="261.20" stroke="#333" stroke-width="0.5"/>
<text x="253.50" y="266.90" font-size="6.3" fill="#1a1a1a" text-anchor="middle">20</text>
<text x="236.2" y="275.9" font-size="7.3" fill="#1a1a1a" text-anchor="middle">−log(<tspan font-style="italic">P</tspan>)</text>
<text x="276.90" y="158.30" font-size="7.27" fill="#222" text-anchor="end">RB1− vs. RB1+ Top 10 GO terms</text>
<ellipse cx="346.7" cy="152.6" rx="12.5" ry="11.8" fill="#5bc4ee"/>
<ellipse cx="415.0" cy="152.4" rx="12.3" ry="11.9" fill="#fbee7c"/>
<text x="348.00" y="155.30" font-size="6.4" fill="#24506f" text-anchor="middle">RB1−</text>
<text x="415.10" y="154.40" font-size="6.4" fill="#4c4c38" text-anchor="middle">RB1+</text>
<line x1="337.90" y1="166.60" x2="330.30" y2="179.40" stroke="#1a1a1a" stroke-width="1.25"/>
<polygon points="329.89,180.09 330.14,177.21 332.29,178.49" fill="#1a1a1a"/>
<line x1="357.20" y1="166.60" x2="365.50" y2="179.40" stroke="#1a1a1a" stroke-width="1.25"/>
<polygon points="365.94,180.07 363.47,178.57 365.57,177.21" fill="#1a1a1a"/>
<line x1="409.00" y1="165.90" x2="401.30" y2="178.90" stroke="#1a1a1a" stroke-width="1.25"/>
<polygon points="400.89,179.59 401.14,176.71 403.29,177.99" fill="#1a1a1a"/>
<line x1="421.30" y1="165.90" x2="429.30" y2="178.90" stroke="#1a1a1a" stroke-width="1.25"/>
<polygon points="429.72,179.58 427.29,178.02 429.42,176.71" fill="#1a1a1a"/>
<text x="329.30" y="186.70" font-size="6.2" fill="#222" text-anchor="middle">DMSO</text>
<text x="364.70" y="186.70" font-size="6.2" fill="#222" text-anchor="middle">AZD2811</text>
<text x="399.40" y="186.70" font-size="6.2" fill="#222" text-anchor="middle">DMSO</text>
<text x="428.60" y="186.70" font-size="6.2" fill="#222" text-anchor="middle">AZD2811</text>
<text x="379.10" y="196.00" font-size="6.4" fill="#222" text-anchor="middle" textLength="115.70" lengthAdjust="spacingAndGlyphs">Identify gene sets regulated by AZD2811</text>
<ellipse cx="381" cy="224.2" rx="25.6" ry="24.0" fill="#5bc4ee"/>
<ellipse cx="391.6" cy="232.9" rx="7.6" ry="6.9" fill="#3fae7c"/>
<text x="377.00" y="211.70" font-size="5.6" fill="#1d5a8a" text-anchor="middle">RB1−</text>
<text x="391.30" y="234.60" font-size="5.2" fill="#0f4a32" text-anchor="middle">RB1+</text>
<polyline points="346.7,198.5 346.7,222.5 353.8,222.5" fill="none" stroke="#1a1a1a" stroke-width="1.25"/>
<polyline points="414.3,198.5 414.3,223.2 407.7,223.2" fill="none" stroke="#1a1a1a" stroke-width="1.25"/>
<text x="346.60" y="248.20" font-size="7.5" fill="#222">29</text>
<text x="402.20" y="248.20" font-size="7.5" fill="#222">3</text>
<line x1="356.20" y1="245.00" x2="364.40" y2="237.50" stroke="#1a1a1a" stroke-width="1.25"/>
<polygon points="364.99,236.96 363.92,239.64 362.23,237.79" fill="#1a1a1a"/>
<line x1="401.50" y1="244.00" x2="394.00" y2="236.70" stroke="#1a1a1a" stroke-width="1.25"/>
<polygon points="393.43,236.14 396.16,237.06 394.42,238.85" fill="#1a1a1a"/>
<text x="383.80" y="258.10" font-size="6.45" fill="#222" text-anchor="middle" textLength="143.00" lengthAdjust="spacingAndGlyphs">GSEA: Compare AZD2811 gene sets differentially</text>
<text x="383.00" y="265.80" font-size="6.3" fill="#222" text-anchor="middle" textLength="94.00" lengthAdjust="spacingAndGlyphs">regulated in RB1− vs. RB1 + cells</text>
<text x="68.30" y="297.80" font-size="8.0" fill="#222" text-anchor="middle">RB1−</text>
<g>
<rect x="2.00" y="302.80" width="124.60" height="124.20" fill="#f0f0dc"/>
<rect x="17.70" y="308.60" width="106.60" height="48.20" fill="#ffffff" stroke="#b9b9b0" stroke-width="0.4"/>
<line x1="17.70" y1="314.50" x2="124.30" y2="314.50" stroke="#a8a8a8" stroke-width="0.45"/>
<rect x="17.70" y="357.80" width="106.60" height="16.00" fill="#ffffff" stroke="#b9b9b0" stroke-width="0.4"/>
<rect x="27.35" y="357.80" width="0.50" height="16.00" fill="#000000" opacity="0.45"/>
<rect x="35.05" y="357.80" width="0.50" height="16.00" fill="#000000" opacity="0.45"/>
<rect x="54.25" y="357.80" width="0.50" height="16.00" fill="#000000" opacity="0.5"/>
<rect x="57.69" y="357.80" width="1.35" height="16.00" fill="#000000" opacity="0.78"/>
<rect x="59.04" y="357.80" width="1.35" height="16.00" fill="#000000" opacity="0.18"/>
<rect x="60.38" y="357.80" width="1.08" height="16.00" fill="#000000" opacity="0.48"/>
<rect x="62.40" y="357.80" width="2.69" height="16.00" fill="#000000" opacity="0.93"/>
<rect x="65.09" y="357.80" width="0.94" height="16.00" fill="#000000" opacity="0.48"/>
<rect x="66.04" y="357.80" width="2.42" height="16.00" fill="#000000" opacity="0.78"/>
<rect x="68.46" y="357.80" width="1.08" height="16.00" fill="#000000" opacity="0.18"/>
<rect x="69.54" y="357.80" width="2.29" height="16.00" fill="#000000" opacity="0.78"/>
<rect x="71.82" y="357.80" width="1.35" height="16.00" fill="#000000" opacity="0.18"/>
<rect x="73.17" y="357.80" width="3.36" height="16.00" fill="#000000" opacity="0.93"/>
<rect x="76.53" y="357.80" width="1.08" height="16.00" fill="#000000" opacity="0.18"/>
<rect x="77.61" y="357.80" width="2.96" height="16.00" fill="#000000" opacity="0.93"/>
<rect x="81.92" y="357.80" width="2.02" height="16.00" fill="#000000" opacity="0.78"/>
<rect x="83.94" y="357.80" width="0.94" height="16.00" fill="#000000" opacity="0.48"/>
<rect x="84.88" y="357.80" width="3.77" height="16.00" fill="#000000" opacity="0.93"/>
<rect x="89.99" y="357.80" width="1.35" height="16.00" fill="#000000" opacity="0.78"/>
<rect x="91.34" y="357.80" width="1.08" height="16.00" fill="#000000" opacity="0.18"/>
<rect x="92.42" y="357.80" width="8.34" height="16.00" fill="#000000" opacity="0.93"/>
<rect x="100.76" y="357.80" width="1.08" height="16.00" fill="#000000" opacity="0.18"/>
<rect x="101.84" y="357.80" width="3.63" height="16.00" fill="#000000" opacity="0.93"/>
<rect x="105.47" y="357.80" width="0.94" height="16.00" fill="#000000" opacity="0.18"/>
<rect x="106.41" y="357.80" width="1.75" height="16.00" fill="#000000" opacity="0.78"/>
<rect x="108.16" y="357.80" width="0.94" height="16.00" fill="#000000" opacity="0.18"/>
<rect x="109.10" y="357.80" width="2.15" height="16.00" fill="#000000" opacity="0.78"/>
<rect x="111.26" y="357.80" width="0.94" height="16.00" fill="#000000" opacity="0.18"/>
<rect x="112.20" y="357.80" width="1.75" height="16.00" fill="#000000" opacity="0.48"/>
<rect x="119.15" y="357.80" width="0.50" height="16.00" fill="#000000" opacity="0.3"/>
<defs><linearGradient id="g3" gradientUnits="userSpaceOnUse" x1="18.00" y1="0" x2="120.00" y2="0"><stop offset="0.000" stop-color="#e63a46"/><stop offset="0.066" stop-color="#ea4a58"/><stop offset="0.095" stop-color="#f3a3ba"/><stop offset="0.333" stop-color="#f4bdd2"/><stop offset="0.402" stop-color="#d3c8e8"/><stop offset="0.549" stop-color="#b3aede"/><stop offset="0.608" stop-color="#5a57b0"/><stop offset="1.000" stop-color="#403f9c"/></linearGradient></defs>
<rect x="18.00" y="373.80" width="102.00" height="3.70" fill="url(#g3)"/>
<rect x="17.70" y="377.50" width="106.60" height="32.80" fill="#ffffff" stroke="#b9b9b0" stroke-width="0.4"/>
<polygon points="18.00,393.20 52.00,393.30 52.00,393.60 80.00,394.00 105.00,394.60 115.00,395.30 118.50,396.50 119.60,399.00 119.80,393.30" fill="#b4b4b8" opacity="0.85"/>
<text x="66.00" y="307.70" font-size="4.74" fill="#222" text-anchor="middle" stroke="#222" stroke-width="0.13">Enrichment plot: HALLMARK_MITOTIC_SPINDLE</text>
<polyline points="17.65,314.47 23.36,318.88 31.15,325.37 38.94,331.86 46.73,338.35 54.52,344.84 61.01,350.82 64.90,353.67 68.02,355.23 71.39,354.71 73.99,353.41 76.58,352.11 77.88,350.82 79.96,348.22 81.78,346.14 83.07,344.33 85.15,342.25 86.97,340.69 89.56,339.65 92.16,338.09 93.98,335.24 96.05,331.34 98.13,327.45 99.95,324.08 101.77,320.96 103.84,318.36 106.44,315.77 109.03,313.95 111.11,313.69 112.93,312.65 114.75,311.61 116.30,312.65 118.12,313.69 119.94,315.25" fill="none" stroke="#62b13e" stroke-width="1.15" stroke-linejoin="round" stroke-linecap="round"/>
<text x="46.60" y="327.80" font-size="7.76" fill="#383838" stroke="#383838" stroke-width="0.12">FDR = 0.017</text>
<text x="16.30" y="311.82" font-size="3.4" fill="#1a1a1a" text-anchor="end" stroke="#1a1a1a" stroke-width="0.13">0.05</text>
<text x="16.30" y="316.22" font-size="3.4" fill="#1a1a1a" text-anchor="end" stroke="#1a1a1a" stroke-width="0.13">0.00</text>
<text x="16.30" y="320.62" font-size="3.4" fill="#1a1a1a" text-anchor="end" stroke="#1a1a1a" stroke-width="0.13">-0.05</text>
<text x="16.30" y="325.02" font-size="3.4" fill="#1a1a1a" text-anchor="end" stroke="#1a1a1a" stroke-width="0.13">-0.10</text>
<text x="16.30" y="329.42" font-size="3.4" fill="#1a1a1a" text-anchor="end" stroke="#1a1a1a" stroke-width="0.13">-0.15</text>
<text x="16.30" y="333.82" font-size="3.4" fill="#1a1a1a" text-anchor="end" stroke="#1a1a1a" stroke-width="0.13">-0.20</text>
<text x="16.30" y="338.22" font-size="3.4" fill="#1a1a1a" text-anchor="end" stroke="#1a1a1a" stroke-width="0.13">-0.25</text>
<text x="16.30" y="342.62" font-size="3.4" fill="#1a1a1a" text-anchor="end" stroke="#1a1a1a" stroke-width="0.13">-0.30</text>
<text x="16.30" y="347.02" font-size="3.4" fill="#1a1a1a" text-anchor="end" stroke="#1a1a1a" stroke-width="0.13">-0.35</text>
<text x="16.30" y="351.42" font-size="3.4" fill="#1a1a1a" text-anchor="end" stroke="#1a1a1a" stroke-width="0.13">-0.40</text>
<text x="16.30" y="355.82" font-size="3.4" fill="#1a1a1a" text-anchor="end" stroke="#1a1a1a" stroke-width="0.13">-0.45</text>
<text x="16.30" y="381.22" font-size="3.4" fill="#1a1a1a" text-anchor="end" stroke="#1a1a1a" stroke-width="0.13">0.5</text>
<text x="16.30" y="395.02" font-size="3.4" fill="#1a1a1a" text-anchor="end" stroke="#1a1a1a" stroke-width="0.13">0.0</text>
<text x="16.30" y="402.02" font-size="3.4" fill="#1a1a1a" text-anchor="end" stroke="#1a1a1a" stroke-width="0.13">-0.5</text>
<text x="16.30" y="408.62" font-size="3.4" fill="#1a1a1a" text-anchor="end" stroke="#1a1a1a" stroke-width="0.13">-1.0</text>
<text x="17.90" y="413.80" font-size="3.4" fill="#222" text-anchor="middle" stroke="#222" stroke-width="0.13">0</text>
<text x="37.90" y="413.80" font-size="3.4" fill="#222" text-anchor="middle" stroke="#222" stroke-width="0.13">5,000</text>
<text x="57.90" y="413.80" font-size="3.4" fill="#222" text-anchor="middle" stroke="#222" stroke-width="0.13">10,000</text>
<text x="77.90" y="413.80" font-size="3.4" fill="#222" text-anchor="middle" stroke="#222" stroke-width="0.13">15,000</text>
<text x="97.90" y="413.80" font-size="3.4" fill="#222" text-anchor="middle" stroke="#222" stroke-width="0.13">20,000</text>
<text x="117.90" y="413.80" font-size="3.4" fill="#222" text-anchor="middle" stroke="#222" stroke-width="0.13">25,000</text>
<text x="70.30" y="418.20" font-size="3.4" fill="#222" text-anchor="middle" stroke="#222" stroke-width="0.13">Rank in ordered dataset</text>
<text x="6.30" y="336.30" font-size="3.98" fill="#1a1a1a" text-anchor="middle" transform="rotate(-90 6.30 336.30)" stroke="#1a1a1a" stroke-width="0.13">Enrichment score (ES)</text>
<text x="6.30" y="393.00" font-size="4.3" fill="#1a1a1a" text-anchor="middle" transform="rotate(-90 6.30 393.00)" stroke="#1a1a1a" stroke-width="0.13">Ranked list metric (Signal2Noise)</text>
<text x="19.30" y="381.31" font-size="3.502" fill="#d83a3a" stroke="#d83a3a" stroke-width="0.13">'AZD' (positively correlated)</text>
<text x="115.50" y="408.00" font-size="3.4" fill="#4a62c4" text-anchor="end" stroke="#4a62c4" stroke-width="0.13">'DMSO' (negatively correlated)</text>
<text x="18.40" y="395.20" font-size="3.57" fill="#111" stroke="#111" stroke-width="0.2">Zero cross at 2,479</text>
<rect x="18.50" y="421.20" width="89.50" height="5.00" fill="#ffffff" stroke="#777" stroke-width="0.3"/>
<line x1="20.29" y1="423.70" x2="23.42" y2="423.70" stroke="#62b13e" stroke-width="0.5"/>
<text x="24.32" y="424.80" font-size="3.06" fill="#222" stroke="#222" stroke-width="0.13">Enrichment profile</text>
<line x1="52.96" y1="423.70" x2="56.09" y2="423.70" stroke="#222" stroke-width="0.5"/>
<text x="56.98" y="424.80" font-size="3.06" fill="#222" stroke="#222" stroke-width="0.13">Hits</text>
<line x1="72.20" y1="423.70" x2="77.57" y2="423.70" stroke="#999" stroke-width="0.5"/>
<text x="80.25" y="424.80" font-size="3.06" fill="#222" stroke="#222" stroke-width="0.13">Ranking metric scores</text>
</g>
<text x="199.60" y="297.80" font-size="8.0" fill="#222" text-anchor="middle">RB1−</text>
<g>
<rect x="131.50" y="302.80" width="124.70" height="124.20" fill="#f0f0dc"/>
<rect x="147.00" y="308.60" width="106.60" height="48.20" fill="#ffffff" stroke="#b9b9b0" stroke-width="0.4"/>
<line x1="147.00" y1="314.50" x2="253.60" y2="314.50" stroke="#a8a8a8" stroke-width="0.45"/>
<rect x="147.00" y="357.80" width="106.60" height="16.00" fill="#ffffff" stroke="#b9b9b0" stroke-width="0.4"/>
<rect x="158.35" y="357.80" width="0.50" height="16.00" fill="#000000" opacity="0.45"/>
<rect x="162.50" y="357.80" width="0.40" height="16.00" fill="#000000" opacity="0.35"/>
<rect x="163.80" y="357.80" width="0.40" height="16.00" fill="#000000" opacity="0.4"/>
<rect x="187.00" y="357.80" width="0.60" height="16.00" fill="#000000" opacity="0.5"/>
<rect x="192.71" y="357.80" width="1.35" height="16.00" fill="#000000" opacity="0.78"/>
<rect x="194.06" y="357.80" width="1.35" height="16.00" fill="#000000" opacity="0.48"/>
<rect x="195.40" y="357.80" width="0.94" height="16.00" fill="#000000" opacity="0.18"/>
<rect x="196.34" y="357.80" width="2.42" height="16.00" fill="#000000" opacity="0.48"/>
<rect x="198.77" y="357.80" width="1.08" height="16.00" fill="#000000" opacity="0.78"/>
<rect x="199.84" y="357.80" width="0.94" height="16.00" fill="#000000" opacity="0.18"/>
<rect x="200.79" y="357.80" width="2.69" height="16.00" fill="#000000" opacity="0.93"/>
<rect x="203.48" y="357.80" width="0.94" height="16.00" fill="#000000" opacity="0.48"/>
<rect x="204.42" y="357.80" width="1.75" height="16.00" fill="#000000" opacity="0.93"/>
<rect x="207.52" y="357.80" width="1.75" height="16.00" fill="#000000" opacity="0.78"/>
<rect x="209.27" y="357.80" width="0.94" height="16.00" fill="#000000" opacity="0.18"/>
<rect x="210.21" y="357.80" width="2.02" height="16.00" fill="#000000" opacity="0.78"/>
<rect x="212.23" y="357.80" width="1.08" height="16.00" fill="#000000" opacity="0.48"/>
<rect x="213.30" y="357.80" width="3.63" height="16.00" fill="#000000" opacity="0.78"/>
<rect x="216.94" y="357.80" width="0.94" height="16.00" fill="#000000" opacity="0.48"/>
<rect x="217.88" y="357.80" width="5.38" height="16.00" fill="#000000" opacity="0.93"/>
<rect x="223.26" y="357.80" width="1.08" height="16.00" fill="#000000" opacity="0.18"/>
<rect x="224.34" y="357.80" width="4.04" height="16.00" fill="#000000" opacity="0.93"/>
<rect x="228.38" y="357.80" width="1.08" height="16.00" fill="#000000" opacity="0.48"/>
<rect x="229.45" y="357.80" width="3.63" height="16.00" fill="#000000" opacity="0.93"/>
<rect x="233.09" y="357.80" width="0.94" height="16.00" fill="#000000" opacity="0.18"/>
<rect x="234.03" y="357.80" width="3.10" height="16.00" fill="#000000" opacity="0.78"/>
<rect x="237.13" y="357.80" width="0.94" height="16.00" fill="#000000" opacity="0.18"/>
<rect x="238.07" y="357.80" width="1.75" height="16.00" fill="#000000" opacity="0.93"/>
<rect x="239.82" y="357.80" width="1.35" height="16.00" fill="#000000" opacity="0.18"/>
<rect x="241.16" y="357.80" width="1.35" height="16.00" fill="#000000" opacity="0.48"/>
<rect x="243.45" y="357.80" width="1.75" height="16.00" fill="#000000" opacity="0.48"/>
<defs><linearGradient id="g4" gradientUnits="userSpaceOnUse" x1="147.20" y1="0" x2="248.60" y2="0"><stop offset="0.000" stop-color="#e63a46"/><stop offset="0.072" stop-color="#ea4a58"/><stop offset="0.102" stop-color="#f3a3ba"/><stop offset="0.368" stop-color="#f4bdd2"/><stop offset="0.437" stop-color="#d3c8e8"/><stop offset="0.538" stop-color="#b3aede"/><stop offset="0.598" stop-color="#5a57b0"/><stop offset="1.000" stop-color="#403f9c"/></linearGradient></defs>
<rect x="147.20" y="373.80" width="101.40" height="3.70" fill="url(#g4)"/>
<rect x="147.00" y="377.50" width="106.60" height="32.80" fill="#ffffff" stroke="#b9b9b0" stroke-width="0.4"/>
<polygon points="147.30,393.20 181.00,393.30 181.00,393.60 210.00,394.00 235.00,394.60 245.00,395.30 248.00,396.50 249.20,399.00 249.40,393.30" fill="#b4b4b8" opacity="0.85"/>
<text x="195.30" y="307.70" font-size="4.74" fill="#222" text-anchor="middle" stroke="#222" stroke-width="0.13">Enrichment plot: HALLMARK_G2M_CHECKPOINT</text>
<polyline points="147.07,314.47 153.56,319.66 161.34,325.63 169.13,331.86 176.92,338.09 184.71,344.33 191.20,349.52 195.09,353.15 198.99,355.23 201.58,354.71 204.18,353.15 206.78,351.59 209.37,350.30 211.97,349.52 214.56,349.00 216.38,347.44 218.46,344.84 220.53,342.25 222.61,339.65 224.95,336.54 226.77,332.90 228.84,328.75 231.44,325.37 234.03,322.52 236.63,320.44 238.71,318.88 240.52,316.29 242.34,312.65 243.90,311.61 245.72,311.87 247.53,313.69 249.61,315.25" fill="none" stroke="#62b13e" stroke-width="1.15" stroke-linejoin="round" stroke-linecap="round"/>
<text x="178.20" y="327.80" font-size="7.76" fill="#383838" stroke="#383838" stroke-width="0.12">FDR = 0.013</text>
<text x="145.60" y="311.82" font-size="3.4" fill="#1a1a1a" text-anchor="end" stroke="#1a1a1a" stroke-width="0.13">0.05</text>
<text x="145.60" y="316.22" font-size="3.4" fill="#1a1a1a" text-anchor="end" stroke="#1a1a1a" stroke-width="0.13">0.00</text>
<text x="145.60" y="320.62" font-size="3.4" fill="#1a1a1a" text-anchor="end" stroke="#1a1a1a" stroke-width="0.13">-0.05</text>
<text x="145.60" y="325.02" font-size="3.4" fill="#1a1a1a" text-anchor="end" stroke="#1a1a1a" stroke-width="0.13">-0.10</text>
<text x="145.60" y="329.42" font-size="3.4" fill="#1a1a1a" text-anchor="end" stroke="#1a1a1a" stroke-width="0.13">-0.15</text>
<text x="145.60" y="333.82" font-size="3.4" fill="#1a1a1a" text-anchor="end" stroke="#1a1a1a" stroke-width="0.13">-0.20</text>
<text x="145.60" y="338.22" font-size="3.4" fill="#1a1a1a" text-anchor="end" stroke="#1a1a1a" stroke-width="0.13">-0.25</text>
<text x="145.60" y="342.62" font-size="3.4" fill="#1a1a1a" text-anchor="end" stroke="#1a1a1a" stroke-width="0.13">-0.30</text>
<text x="145.60" y="347.02" font-size="3.4" fill="#1a1a1a" text-anchor="end" stroke="#1a1a1a" stroke-width="0.13">-0.35</text>
<text x="145.60" y="351.42" font-size="3.4" fill="#1a1a1a" text-anchor="end" stroke="#1a1a1a" stroke-width="0.13">-0.40</text>
<text x="145.60" y="355.82" font-size="3.4" fill="#1a1a1a" text-anchor="end" stroke="#1a1a1a" stroke-width="0.13">-0.45</text>
<text x="145.60" y="381.22" font-size="3.4" fill="#1a1a1a" text-anchor="end" stroke="#1a1a1a" stroke-width="0.13">0.5</text>
<text x="145.60" y="395.02" font-size="3.4" fill="#1a1a1a" text-anchor="end" stroke="#1a1a1a" stroke-width="0.13">0.0</text>
<text x="145.60" y="402.02" font-size="3.4" fill="#1a1a1a" text-anchor="end" stroke="#1a1a1a" stroke-width="0.13">-0.5</text>
<text x="145.60" y="408.62" font-size="3.4" fill="#1a1a1a" text-anchor="end" stroke="#1a1a1a" stroke-width="0.13">-1.0</text>
<text x="147.20" y="413.80" font-size="3.4" fill="#222" text-anchor="middle" stroke="#222" stroke-width="0.13">0</text>
<text x="167.20" y="413.80" font-size="3.4" fill="#222" text-anchor="middle" stroke="#222" stroke-width="0.13">5,000</text>
<text x="187.20" y="413.80" font-size="3.4" fill="#222" text-anchor="middle" stroke="#222" stroke-width="0.13">10,000</text>
<text x="207.20" y="413.80" font-size="3.4" fill="#222" text-anchor="middle" stroke="#222" stroke-width="0.13">15,000</text>
<text x="227.20" y="413.80" font-size="3.4" fill="#222" text-anchor="middle" stroke="#222" stroke-width="0.13">20,000</text>
<text x="247.20" y="413.80" font-size="3.4" fill="#222" text-anchor="middle" stroke="#222" stroke-width="0.13">25,000</text>
<text x="199.60" y="418.20" font-size="3.4" fill="#222" text-anchor="middle" stroke="#222" stroke-width="0.13">Rank in ordered dataset</text>
<text x="135.80" y="336.30" font-size="3.98" fill="#1a1a1a" text-anchor="middle" transform="rotate(-90 135.80 336.30)" stroke="#1a1a1a" stroke-width="0.13">Enrichment score (ES)</text>
<text x="135.80" y="393.00" font-size="4.3" fill="#1a1a1a" text-anchor="middle" transform="rotate(-90 135.80 393.00)" stroke="#1a1a1a" stroke-width="0.13">Ranked list metric (Signal2Noise)</text>
<text x="148.60" y="381.31" font-size="3.502" fill="#d83a3a" stroke="#d83a3a" stroke-width="0.13">'AZD' (positively correlated)</text>
<text x="244.80" y="408.00" font-size="3.4" fill="#4a62c4" text-anchor="end" stroke="#4a62c4" stroke-width="0.13">'DMSO' (negatively correlated)</text>
<text x="147.80" y="395.20" font-size="3.57" fill="#111" stroke="#111" stroke-width="0.2">Zero cross at 2,479</text>
<rect x="150.60" y="421.20" width="86.90" height="5.00" fill="#ffffff" stroke="#777" stroke-width="0.3"/>
<line x1="152.34" y1="423.70" x2="155.38" y2="423.70" stroke="#62b13e" stroke-width="0.5"/>
<text x="156.25" y="424.80" font-size="3.06" fill="#222" stroke="#222" stroke-width="0.13">Enrichment profile</text>
<line x1="184.06" y1="423.70" x2="187.10" y2="423.70" stroke="#222" stroke-width="0.5"/>
<text x="187.97" y="424.80" font-size="3.06" fill="#222" stroke="#222" stroke-width="0.13">Hits</text>
<line x1="202.74" y1="423.70" x2="207.95" y2="423.70" stroke="#999" stroke-width="0.5"/>
<text x="210.56" y="424.80" font-size="3.06" fill="#222" stroke="#222" stroke-width="0.13">Ranking metric scores</text>
</g>
<text x="330.00" y="297.80" font-size="8.0" fill="#222" text-anchor="middle">RB1+</text>
<g>
<rect x="261.70" y="302.80" width="124.80" height="124.20" fill="#f0f0dc"/>
<rect x="277.00" y="308.60" width="106.90" height="48.20" fill="#ffffff" stroke="#b9b9b0" stroke-width="0.4"/>
<line x1="277.00" y1="314.50" x2="383.90" y2="314.50" stroke="#a8a8a8" stroke-width="0.45"/>
<rect x="277.00" y="357.80" width="106.90" height="16.00" fill="#ffffff" stroke="#b9b9b0" stroke-width="0.4"/>
<rect x="280.65" y="357.80" width="0.63" height="16.00" fill="#000000" opacity="0.48"/>
<rect x="287.64" y="357.80" width="1.48" height="16.00" fill="#000000" opacity="0.78"/>
<rect x="289.12" y="357.80" width="1.27" height="16.00" fill="#000000" opacity="0.18"/>
<rect x="290.39" y="357.80" width="2.12" height="16.00" fill="#000000" opacity="0.93"/>
<rect x="292.50" y="357.80" width="1.27" height="16.00" fill="#000000" opacity="0.48"/>
<rect x="293.77" y="357.80" width="1.69" height="16.00" fill="#000000" opacity="0.78"/>
<rect x="295.46" y="357.80" width="1.27" height="16.00" fill="#000000" opacity="0.18"/>
<rect x="296.73" y="357.80" width="2.12" height="16.00" fill="#000000" opacity="0.78"/>
<rect x="298.85" y="357.80" width="1.06" height="16.00" fill="#000000" opacity="0.18"/>
<rect x="299.91" y="357.80" width="3.17" height="16.00" fill="#000000" opacity="0.93"/>
<rect x="303.08" y="357.80" width="1.48" height="16.00" fill="#000000" opacity="0.48"/>
<rect x="311.96" y="357.80" width="1.06" height="16.00" fill="#000000" opacity="0.48"/>
<rect x="329.95" y="357.80" width="2.12" height="16.00" fill="#000000" opacity="0.78"/>
<rect x="332.06" y="357.80" width="1.48" height="16.00" fill="#000000" opacity="0.18"/>
<rect x="333.54" y="357.80" width="2.75" height="16.00" fill="#000000" opacity="0.93"/>
<rect x="336.29" y="357.80" width="1.48" height="16.00" fill="#000000" opacity="0.48"/>
<rect x="337.77" y="357.80" width="1.69" height="16.00" fill="#000000" opacity="0.78"/>
<rect x="339.47" y="357.80" width="1.27" height="16.00" fill="#000000" opacity="0.18"/>
<rect x="340.73" y="357.80" width="2.54" height="16.00" fill="#000000" opacity="0.78"/>
<rect x="343.27" y="357.80" width="1.69" height="16.00" fill="#000000" opacity="0.48"/>
<rect x="344.97" y="357.80" width="2.12" height="16.00" fill="#000000" opacity="0.78"/>
<rect x="347.08" y="357.80" width="1.27" height="16.00" fill="#000000" opacity="0.18"/>
<rect x="348.35" y="357.80" width="4.23" height="16.00" fill="#000000" opacity="0.93"/>
<rect x="352.58" y="357.80" width="1.27" height="16.00" fill="#000000" opacity="0.18"/>
<rect x="353.85" y="357.80" width="5.71" height="16.00" fill="#000000" opacity="0.93"/>
<rect x="359.56" y="357.80" width="1.06" height="16.00" fill="#000000" opacity="0.48"/>
<rect x="360.62" y="357.80" width="2.54" height="16.00" fill="#000000" opacity="0.93"/>
<rect x="364.85" y="357.80" width="3.81" height="16.00" fill="#000000" opacity="0.93"/>
<rect x="371.62" y="357.80" width="1.27" height="16.00" fill="#000000" opacity="0.48"/>
<rect x="375.43" y="357.80" width="1.06" height="16.00" fill="#000000" opacity="0.18"/>
<defs><linearGradient id="g5" gradientUnits="userSpaceOnUse" x1="277.20" y1="0" x2="378.60" y2="0"><stop offset="0.000" stop-color="#e63a46"/><stop offset="0.141" stop-color="#ea4a58"/><stop offset="0.171" stop-color="#f3a3ba"/><stop offset="0.481" stop-color="#f4bdd2"/><stop offset="0.550" stop-color="#d3c8e8"/><stop offset="0.777" stop-color="#b3aede"/><stop offset="0.836" stop-color="#5a57b0"/><stop offset="1.000" stop-color="#403f9c"/></linearGradient></defs>
<rect x="277.20" y="373.80" width="101.40" height="3.70" fill="url(#g5)"/>
<rect x="277.00" y="377.50" width="106.90" height="32.80" fill="#ffffff" stroke="#b9b9b0" stroke-width="0.4"/>
<polygon points="277.20,380.60 277.90,385.60 279.50,387.30 284.00,388.30 295.00,389.00 314.00,389.60 314.50,390.00 340.00,390.50 365.00,391.10 375.00,391.90 378.60,393.60 379.60,399.10 379.90,389.70 277.20,389.70" fill="#b4b4b8" opacity="0.85"/>
<text x="325.30" y="307.70" font-size="4.74" fill="#222" text-anchor="middle" stroke="#222" stroke-width="0.13">Enrichment plot: HALLMARK_MITOTIC_SPINDLE</text>
<polyline points="277.07,313.17 278.36,313.69 279.66,314.73 280.96,313.17 283.04,315.25 285.63,317.85 287.45,319.66 289.27,320.44 291.34,320.96 293.94,319.66 296.02,320.44 297.83,321.22 301.73,324.08 306.92,328.75 313.41,334.46 319.90,340.43 326.39,345.88 332.88,350.82 338.07,353.93 341.97,355.23 344.56,355.23 347.16,353.15 349.76,350.82 352.35,348.22 354.95,345.62 357.02,341.73 358.84,337.83 361.44,331.86 364.03,326.15 366.11,323.56 367.93,322.26 369.23,317.85 370.52,313.17 371.82,311.87 373.12,313.17 374.42,314.73 375.72,313.17 377.01,311.87 378.31,313.17 379.61,312.65" fill="none" stroke="#62b13e" stroke-width="1.15" stroke-linejoin="round" stroke-linecap="round"/>
<text x="310.80" y="327.80" font-size="7.76" fill="#383838" stroke="#383838" stroke-width="0.12">FDR = 0.306</text>
<text x="275.60" y="311.82" font-size="3.4" fill="#1a1a1a" text-anchor="end" stroke="#1a1a1a" stroke-width="0.13">0.05</text>
<text x="275.60" y="316.22" font-size="3.4" fill="#1a1a1a" text-anchor="end" stroke="#1a1a1a" stroke-width="0.13">0.00</text>
<text x="275.60" y="320.62" font-size="3.4" fill="#1a1a1a" text-anchor="end" stroke="#1a1a1a" stroke-width="0.13">-0.05</text>
<text x="275.60" y="325.02" font-size="3.4" fill="#1a1a1a" text-anchor="end" stroke="#1a1a1a" stroke-width="0.13">-0.10</text>
<text x="275.60" y="329.42" font-size="3.4" fill="#1a1a1a" text-anchor="end" stroke="#1a1a1a" stroke-width="0.13">-0.15</text>
<text x="275.60" y="333.82" font-size="3.4" fill="#1a1a1a" text-anchor="end" stroke="#1a1a1a" stroke-width="0.13">-0.20</text>
<text x="275.60" y="338.22" font-size="3.4" fill="#1a1a1a" text-anchor="end" stroke="#1a1a1a" stroke-width="0.13">-0.25</text>
<text x="275.60" y="342.62" font-size="3.4" fill="#1a1a1a" text-anchor="end" stroke="#1a1a1a" stroke-width="0.13">-0.30</text>
<text x="275.60" y="347.02" font-size="3.4" fill="#1a1a1a" text-anchor="end" stroke="#1a1a1a" stroke-width="0.13">-0.35</text>
<text x="275.60" y="351.42" font-size="3.4" fill="#1a1a1a" text-anchor="end" stroke="#1a1a1a" stroke-width="0.13">-0.40</text>
<text x="275.60" y="355.82" font-size="3.4" fill="#1a1a1a" text-anchor="end" stroke="#1a1a1a" stroke-width="0.13">-0.45</text>
<text x="275.60" y="381.82" font-size="3.4" fill="#1a1a1a" text-anchor="end" stroke="#1a1a1a" stroke-width="0.13">2.5</text>
<text x="275.60" y="390.72" font-size="3.4" fill="#1a1a1a" text-anchor="end" stroke="#1a1a1a" stroke-width="0.13">0.0</text>
<text x="275.60" y="400.02" font-size="3.4" fill="#1a1a1a" text-anchor="end" stroke="#1a1a1a" stroke-width="0.13">-2.5</text>
<text x="275.60" y="408.82" font-size="3.4" fill="#1a1a1a" text-anchor="end" stroke="#1a1a1a" stroke-width="0.13">-5.0</text>
<text x="277.20" y="413.80" font-size="3.4" fill="#222" text-anchor="middle" stroke="#222" stroke-width="0.13">0</text>
<text x="297.20" y="413.80" font-size="3.4" fill="#222" text-anchor="middle" stroke="#222" stroke-width="0.13">5,000</text>
<text x="317.20" y="413.80" font-size="3.4" fill="#222" text-anchor="middle" stroke="#222" stroke-width="0.13">10,000</text>
<text x="337.20" y="413.80" font-size="3.4" fill="#222" text-anchor="middle" stroke="#222" stroke-width="0.13">15,000</text>
<text x="357.20" y="413.80" font-size="3.4" fill="#222" text-anchor="middle" stroke="#222" stroke-width="0.13">20,000</text>
<text x="377.20" y="413.80" font-size="3.4" fill="#222" text-anchor="middle" stroke="#222" stroke-width="0.13">25,000</text>
<text x="329.60" y="418.20" font-size="3.4" fill="#222" text-anchor="middle" stroke="#222" stroke-width="0.13">Rank in ordered dataset</text>
<text x="266.00" y="336.30" font-size="3.98" fill="#1a1a1a" text-anchor="middle" transform="rotate(-90 266.00 336.30)" stroke="#1a1a1a" stroke-width="0.13">Enrichment score (ES)</text>
<text x="266.00" y="393.00" font-size="4.3" fill="#1a1a1a" text-anchor="middle" transform="rotate(-90 266.00 393.00)" stroke="#1a1a1a" stroke-width="0.13">Ranked list metric (Signal2Noise)</text>
<text x="278.60" y="381.31" font-size="3.502" fill="#d83a3a" stroke="#d83a3a" stroke-width="0.13">'AZD' (positively correlated)</text>
<text x="374.80" y="408.00" font-size="3.4" fill="#4a62c4" text-anchor="end" stroke="#4a62c4" stroke-width="0.13">'DMSO' (negatively correlated)</text>
<text x="294.00" y="395.40" font-size="3.57" fill="#111" stroke="#111" stroke-width="0.2">Zero cross at 9,864</text>
<rect x="280.50" y="421.20" width="86.80" height="5.00" fill="#ffffff" stroke="#777" stroke-width="0.3"/>
<line x1="282.24" y1="423.70" x2="285.27" y2="423.70" stroke="#62b13e" stroke-width="0.5"/>
<text x="286.14" y="424.80" font-size="3.06" fill="#222" stroke="#222" stroke-width="0.13">Enrichment profile</text>
<line x1="313.92" y1="423.70" x2="316.96" y2="423.70" stroke="#222" stroke-width="0.5"/>
<text x="317.82" y="424.80" font-size="3.06" fill="#222" stroke="#222" stroke-width="0.13">Hits</text>
<line x1="332.58" y1="423.70" x2="337.79" y2="423.70" stroke="#999" stroke-width="0.5"/>
<text x="340.39" y="424.80" font-size="3.06" fill="#222" stroke="#222" stroke-width="0.13">Ranking metric scores</text>
</g>
<text x="460.60" y="297.80" font-size="8.0" fill="#222" text-anchor="middle">RB1+</text>
<g>
<rect x="391.80" y="302.80" width="125.00" height="124.20" fill="#f0f0dc"/>
<rect x="407.80" y="308.60" width="106.10" height="48.20" fill="#ffffff" stroke="#b9b9b0" stroke-width="0.4"/>
<line x1="407.80" y1="317.80" x2="513.90" y2="317.80" stroke="#a8a8a8" stroke-width="0.45"/>
<rect x="407.80" y="357.80" width="106.10" height="16.00" fill="#ffffff" stroke="#b9b9b0" stroke-width="0.4"/>
<rect x="413.40" y="357.80" width="1.48" height="16.00" fill="#000000" opacity="0.48"/>
<rect x="416.15" y="357.80" width="0.85" height="16.00" fill="#000000" opacity="0.18"/>
<rect x="419.12" y="357.80" width="0.85" height="16.00" fill="#000000" opacity="0.18"/>
<rect x="422.08" y="357.80" width="2.12" height="16.00" fill="#000000" opacity="0.48"/>
<rect x="424.19" y="357.80" width="1.27" height="16.00" fill="#000000" opacity="0.18"/>
<rect x="425.46" y="357.80" width="1.69" height="16.00" fill="#000000" opacity="0.65"/>
<rect x="427.16" y="357.80" width="1.06" height="16.00" fill="#000000" opacity="0.18"/>
<rect x="428.21" y="357.80" width="1.48" height="16.00" fill="#000000" opacity="0.65"/>
<rect x="429.69" y="357.80" width="1.27" height="16.00" fill="#000000" opacity="0.18"/>
<rect x="430.96" y="357.80" width="2.12" height="16.00" fill="#000000" opacity="0.7"/>
<rect x="433.08" y="357.80" width="1.27" height="16.00" fill="#000000" opacity="0.48"/>
<rect x="437.73" y="357.80" width="1.06" height="16.00" fill="#000000" opacity="0.78"/>
<rect x="443.02" y="357.80" width="1.06" height="16.00" fill="#000000" opacity="0.48"/>
<rect x="459.95" y="357.80" width="2.75" height="16.00" fill="#000000" opacity="0.93"/>
<rect x="462.70" y="357.80" width="1.27" height="16.00" fill="#000000" opacity="0.18"/>
<rect x="463.96" y="357.80" width="3.38" height="16.00" fill="#000000" opacity="0.93"/>
<rect x="467.35" y="357.80" width="1.27" height="16.00" fill="#000000" opacity="0.18"/>
<rect x="468.62" y="357.80" width="2.54" height="16.00" fill="#000000" opacity="0.78"/>
<rect x="472.43" y="357.80" width="3.38" height="16.00" fill="#000000" opacity="0.93"/>
<rect x="477.08" y="357.80" width="3.38" height="16.00" fill="#000000" opacity="0.93"/>
<rect x="480.47" y="357.80" width="1.27" height="16.00" fill="#000000" opacity="0.48"/>
<rect x="481.74" y="357.80" width="7.19" height="16.00" fill="#000000" opacity="0.93"/>
<rect x="488.93" y="357.80" width="1.27" height="16.00" fill="#000000" opacity="0.48"/>
<rect x="490.20" y="357.80" width="2.96" height="16.00" fill="#000000" opacity="0.93"/>
<rect x="494.85" y="357.80" width="2.54" height="16.00" fill="#000000" opacity="0.78"/>
<rect x="497.39" y="357.80" width="1.27" height="16.00" fill="#000000" opacity="0.18"/>
<rect x="498.66" y="357.80" width="2.12" height="16.00" fill="#000000" opacity="0.78"/>
<rect x="503.74" y="357.80" width="1.27" height="16.00" fill="#000000" opacity="0.18"/>
<defs><linearGradient id="g6" gradientUnits="userSpaceOnUse" x1="408.00" y1="0" x2="509.60" y2="0"><stop offset="0.000" stop-color="#e63a46"/><stop offset="0.156" stop-color="#ea4a58"/><stop offset="0.186" stop-color="#f3a3ba"/><stop offset="0.472" stop-color="#f4bdd2"/><stop offset="0.541" stop-color="#d3c8e8"/><stop offset="0.768" stop-color="#b3aede"/><stop offset="0.827" stop-color="#5a57b0"/><stop offset="1.000" stop-color="#403f9c"/></linearGradient></defs>
<rect x="408.00" y="373.80" width="101.60" height="3.70" fill="url(#g6)"/>
<rect x="407.80" y="377.50" width="106.10" height="32.80" fill="#ffffff" stroke="#b9b9b0" stroke-width="0.4"/>
<polygon points="408.00,380.60 408.70,385.60 410.30,387.30 415.00,388.30 426.00,389.00 445.00,389.60 445.50,390.00 471.00,390.50 496.00,391.10 506.00,391.90 509.30,393.60 510.30,399.10 510.60,389.70 408.00,389.70" fill="#b4b4b8" opacity="0.85"/>
<text x="456.10" y="307.70" font-size="4.74" fill="#222" text-anchor="middle" stroke="#222" stroke-width="0.13">Enrichment plot: HALLMARK_G2M_CHECKPOINT</text>
<polyline points="407.85,311.87 408.88,313.17 410.96,315.25 413.56,317.07 416.15,318.36 420.05,319.14 423.94,319.66 427.83,321.22 431.73,324.34 436.92,328.75 443.41,333.94 449.90,339.13 456.39,344.33 462.88,349.52 466.00,352.11 468.07,353.41 470.67,354.71 472.49,355.23 474.56,354.19 475.86,354.71 477.42,355.23 479.76,353.15 482.35,350.82 484.95,347.70 487.54,344.33 489.62,340.95 491.44,337.83 493.52,332.64 495.33,327.45 496.63,323.04 497.93,319.92 499.23,318.36 500.52,317.85 501.82,317.33 503.12,317.07 504.42,317.59 505.72,317.85 507.01,316.81 508.31,316.29 510.13,317.85" fill="none" stroke="#62b13e" stroke-width="1.15" stroke-linejoin="round" stroke-linecap="round"/>
<text x="440.80" y="327.80" font-size="7.76" fill="#383838" stroke="#383838" stroke-width="0.12">FDR = 0.348</text>
<text x="406.40" y="314.52" font-size="3.4" fill="#1a1a1a" text-anchor="end" stroke="#1a1a1a" stroke-width="0.13">0.05</text>
<text x="406.40" y="318.82" font-size="3.4" fill="#1a1a1a" text-anchor="end" stroke="#1a1a1a" stroke-width="0.13">0.00</text>
<text x="406.40" y="323.12" font-size="3.4" fill="#1a1a1a" text-anchor="end" stroke="#1a1a1a" stroke-width="0.13">-0.05</text>
<text x="406.40" y="327.42" font-size="3.4" fill="#1a1a1a" text-anchor="end" stroke="#1a1a1a" stroke-width="0.13">-0.10</text>
<text x="406.40" y="331.72" font-size="3.4" fill="#1a1a1a" text-anchor="end" stroke="#1a1a1a" stroke-width="0.13">-0.15</text>
<text x="406.40" y="336.02" font-size="3.4" fill="#1a1a1a" text-anchor="end" stroke="#1a1a1a" stroke-width="0.13">-0.20</text>
<text x="406.40" y="340.32" font-size="3.4" fill="#1a1a1a" text-anchor="end" stroke="#1a1a1a" stroke-width="0.13">-0.25</text>
<text x="406.40" y="344.62" font-size="3.4" fill="#1a1a1a" text-anchor="end" stroke="#1a1a1a" stroke-width="0.13">-0.30</text>
<text x="406.40" y="348.92" font-size="3.4" fill="#1a1a1a" text-anchor="end" stroke="#1a1a1a" stroke-width="0.13">-0.35</text>
<text x="406.40" y="353.22" font-size="3.4" fill="#1a1a1a" text-anchor="end" stroke="#1a1a1a" stroke-width="0.13">-0.40</text>
<text x="406.40" y="357.52" font-size="3.4" fill="#1a1a1a" text-anchor="end" stroke="#1a1a1a" stroke-width="0.13">-0.45</text>
<text x="406.40" y="381.82" font-size="3.4" fill="#1a1a1a" text-anchor="end" stroke="#1a1a1a" stroke-width="0.13">0.5</text>
<text x="406.40" y="390.72" font-size="3.4" fill="#1a1a1a" text-anchor="end" stroke="#1a1a1a" stroke-width="0.13">0.0</text>
<text x="406.40" y="400.02" font-size="3.4" fill="#1a1a1a" text-anchor="end" stroke="#1a1a1a" stroke-width="0.13">-2.5</text>
<text x="406.40" y="408.82" font-size="3.4" fill="#1a1a1a" text-anchor="end" stroke="#1a1a1a" stroke-width="0.13">-5.0</text>
<text x="408.00" y="413.80" font-size="3.4" fill="#222" text-anchor="middle" stroke="#222" stroke-width="0.13">0</text>
<text x="428.00" y="413.80" font-size="3.4" fill="#222" text-anchor="middle" stroke="#222" stroke-width="0.13">5,000</text>
<text x="448.00" y="413.80" font-size="3.4" fill="#222" text-anchor="middle" stroke="#222" stroke-width="0.13">10,000</text>
<text x="468.00" y="413.80" font-size="3.4" fill="#222" text-anchor="middle" stroke="#222" stroke-width="0.13">15,000</text>
<text x="488.00" y="413.80" font-size="3.4" fill="#222" text-anchor="middle" stroke="#222" stroke-width="0.13">20,000</text>
<text x="508.00" y="413.80" font-size="3.4" fill="#222" text-anchor="middle" stroke="#222" stroke-width="0.13">25,000</text>
<text x="460.40" y="418.20" font-size="3.4" fill="#222" text-anchor="middle" stroke="#222" stroke-width="0.13">Rank in ordered dataset</text>
<text x="396.10" y="336.30" font-size="3.98" fill="#1a1a1a" text-anchor="middle" transform="rotate(-90 396.10 336.30)" stroke="#1a1a1a" stroke-width="0.13">Enrichment score (ES)</text>
<text x="396.10" y="393.00" font-size="4.3" fill="#1a1a1a" text-anchor="middle" transform="rotate(-90 396.10 393.00)" stroke="#1a1a1a" stroke-width="0.13">Ranked list metric (Signal2Noise)</text>
<text x="409.40" y="381.31" font-size="3.502" fill="#d83a3a" stroke="#d83a3a" stroke-width="0.13">'AZD' (positively correlated)</text>
<text x="505.60" y="408.00" font-size="3.4" fill="#4a62c4" text-anchor="end" stroke="#4a62c4" stroke-width="0.13">'DMSO' (negatively correlated)</text>
<text x="425.00" y="395.40" font-size="3.57" fill="#111" stroke="#111" stroke-width="0.2">Zero cross at 9,864</text>
<rect x="410.80" y="421.20" width="87.00" height="5.00" fill="#ffffff" stroke="#777" stroke-width="0.3"/>
<line x1="412.54" y1="423.70" x2="415.59" y2="423.70" stroke="#62b13e" stroke-width="0.5"/>
<text x="416.45" y="424.80" font-size="3.06" fill="#222" stroke="#222" stroke-width="0.13">Enrichment profile</text>
<line x1="444.30" y1="423.70" x2="447.34" y2="423.70" stroke="#222" stroke-width="0.5"/>
<text x="448.21" y="424.80" font-size="3.06" fill="#222" stroke="#222" stroke-width="0.13">Hits</text>
<line x1="463.00" y1="423.70" x2="468.22" y2="423.70" stroke="#999" stroke-width="0.5"/>
<text x="470.83" y="424.80" font-size="3.06" fill="#222" stroke="#222" stroke-width="0.13">Ranking metric scores</text>
</g>
<rect x="0.00" y="433.80" width="520.00" height="1.70" fill="#2a2a2a"/>
<text x="264.80" y="449.50" font-size="9.4" fill="#222" text-anchor="middle" textLength="88.40" lengthAdjust="spacingAndGlyphs">AZD2811 vs. DMSO</text>
</svg>
</body></html>
